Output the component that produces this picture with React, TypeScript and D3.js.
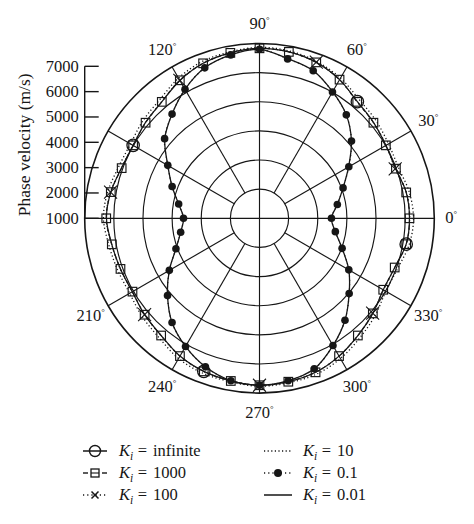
import React, { useEffect, useRef } from 'react';
import * as d3 from 'd3';

// polar angle of every sample (degrees, counter-clockwise from 0°)
const angles = [
  0, 10, 20, 30, 40, 50, 60, 70, 80, 90, 100, 110, 120, 130, 140, 150, 160, 170,
  180, 190, 200, 210, 220, 230, 240, 250, 260, 270, 280, 290, 300, 310, 320, 330, 340, 350,
];

// phase velocity (m/s) for each interface stiffness
const kInfinite = [
  6920, 6880, 6720, 6760, 6880, 7010, 7320, 7550, 7670, 7710, 7630, 7510, 7280, 7000, 6880, 6760, 6800, 6960,
  7040, 6920, 6840, 6800, 6920, 7040, 7280, 7430, 7510, 7590, 7550, 7470, 7280, 7040, 6840, 6640, 6680, 6880,
];
const k1000 = [
  6920, 6880, 6730, 6760, 6870, 7000, 7320, 7550, 7670, 7710, 7630, 7510, 7290, 7000, 6870, 6760, 6790, 6960,
  7050, 6920, 6840, 6790, 6920, 7040, 7280, 7430, 7520, 7590, 7550, 7470, 7280, 7040, 6840, 6640, 6680, 6880,
];
const k100 = [
  6930, 6890, 6700, 6770, 6880, 7000, 7320, 7560, 7670, 7710, 7630, 7510, 7290, 7010, 6880, 6770, 6800, 6970,
  7050, 6930, 6850, 6800, 6920, 7050, 7280, 7440, 7510, 7590, 7550, 7470, 7280, 7040, 6830, 6650, 6690, 6880,
];
const k10 = [
  7080, 7000, 6840, 6880, 7000, 7120, 7390, 7590, 7710, 7750, 7670, 7590, 7390, 7120, 7000, 6880, 6920, 7080,
  7160, 7040, 6960, 6920, 7040, 7160, 7390, 7510, 7550, 7630, 7590, 7550, 7390, 7160, 6960, 6760, 6800, 7000,
];
const k01 = [
  3840, 4120, 4510, 5070, 5740, 6330, 6760, 7200, 7390, 7670, 7550, 7320, 6880, 6370, 5890, 5180, 4670, 4240,
  4000, 4160, 4510, 5110, 5740, 6370, 6840, 7240, 7510, 7590, 7510, 7320, 6800, 6250, 5620, 5070, 4470, 4040,
];
const k001 = [
  3840, 4120, 4510, 5060, 5740, 6330, 6770, 7200, 7400, 7670, 7550, 7320, 6880, 6370, 5880, 5180, 4670, 4240,
  4000, 4160, 4510, 5110, 5740, 6370, 6840, 7240, 7510, 7590, 7510, 7320, 6800, 6250, 5620, 5070, 4470, 4040,
];

const circleAngles = [50, 150, 250, 350];
const crossAngles = [20, 70, 120, 170, 220, 270, 320];

const spokeAngles = [0, 30, 60, 90, 120, 150, 180, 210, 240, 270, 300, 330];
const angleLabels = [0, 30, 60, 90, 120, 210, 240, 270, 300, 330];
const velocityTicks = [1000, 2000, 3000, 4000, 5000, 6000, 7000];
const gridRings = [2150, 3300, 4450, 5600, 6750, 7900];

const legendLabels = ['infinite', '1000', '100', '10', '0.1', '0.01'];

const FONT = "'Liberation Serif', 'DejaVu Serif', serif";

const App: React.FC = () => {
  const ref = useRef<SVGSVGElement>(null);

  useEffect(() => {
    if (!ref.current) return;
    const svg = d3.select(ref.current);
    svg.selectAll('*').remove();

    const cx = 259.5;
    const cy = 218.3;
    const r = d3.scaleLinear().domain([1000, 7000]).range([0, 152]);
    const R = r(7900);
    const rad = (deg: number) => (deg * Math.PI) / 180;
    const px = (deg: number, v: number) => cx + r(v) * Math.cos(rad(deg));
    const py = (deg: number, v: number) => cy - r(v) * Math.sin(rad(deg));
    const ink = '#161616';

    const g = svg.append('g');

    // grid rings
    g.selectAll('circle.ring')
      .data(gridRings)
      .enter()
      .append('circle')
      .attr('cx', cx)
      .attr('cy', cy)
      .attr('r', (d) => r(d))
      .attr('fill', 'none')
      .attr('stroke', ink)
      .attr('stroke-width', (d, i) => (i === gridRings.length - 1 ? 1.6 : 1.15));

    // spokes
    g.selectAll('line.spoke')
      .data(spokeAngles)
      .enter()
      .append('line')
      .attr('x1', (d) => px(d, d % 90 === 0 ? 1000 : gridRings[0]))
      .attr('y1', (d) => py(d, d % 90 === 0 ? 1000 : gridRings[0]))
      .attr('x2', (d) => px(d, 7900))
      .attr('y2', (d) => py(d, 7900))
      .attr('stroke', ink)
      .attr('stroke-width', 1.15);

    // angle labels
    const lab = g
      .selectAll('text.ang')
      .data(angleLabels)
      .enter()
      .append('text')
      .attr('x', (d) => cx + (R + 20) * Math.cos(rad(d)) - (d === 0 ? 3 : 0))
      .attr('y', (d) => cy - (R + 20) * Math.sin(rad(d)) + 5)
      .attr('text-anchor', 'middle')
      .attr('font-family', FONT)
      .attr('font-size', 16.5)
      .attr('fill', ink);
    lab.append('tspan').text((d) => `${d}`);
    lab.append('tspan').attr('font-size', 9).attr('dy', -6).text('°');

    // left radial axis
    const axisX = cx - R;
    g.append('line')
      .attr('x1', axisX)
      .attr('x2', axisX)
      .attr('y1', cy - r(7000))
      .attr('y2', cy)
      .attr('stroke', ink)
      .attr('stroke-width', 1.4);
    g.selectAll('line.tick')
      .data(velocityTicks)
      .enter()
      .append('line')
      .attr('x1', axisX)
      .attr('x2', axisX + 14)
      .attr('y1', (d) => cy - r(d))
      .attr('y2', (d) => cy - r(d))
      .attr('stroke', ink)
      .attr('stroke-width', 1.4);
    g.selectAll('text.tick')
      .data(velocityTicks)
      .enter()
      .append('text')
      .attr('x', axisX - 6)
      .attr('y', (d) => cy - r(d) + 5.5)
      .attr('text-anchor', 'end')
      .attr('font-family', FONT)
      .attr('font-size', 16.5)
      .attr('fill', ink)
      .text((d) => d);
    g.append('text')
      .attr('transform', `translate(30,${cy - r(3900)}) rotate(-90)`)
      .attr('text-anchor', 'middle')
      .attr('font-family', FONT)
      .attr('font-size', 17.5)
      .attr('fill', ink)
      .text('Phase velocity (m/s)');

    // curves
    const curve = d3
      .lineRadial<number>()
      .angle((d, i) => rad(90 - angles[i]))
      .radius((d) => r(d))
      .curve(d3.curveCatmullRomClosed);

    const series = [
      { values: k10, dash: '1.2,2.4', width: 1.3 },
      { values: k100, dash: '1.2,3', width: 1.2 },
      { values: k1000, dash: '4,3', width: 1.1 },
      { values: kInfinite, dash: null, width: 1.2 },
      { values: k01, dash: '1.2,3', width: 1.2 },
      { values: k001, dash: null, width: 1.3 },
    ];
    series.forEach((s) => {
      g.append('path')
        .attr('transform', `translate(${cx},${cy})`)
        .attr('d', curve(s.values))
        .attr('fill', 'none')
        .attr('stroke', ink)
        .attr('stroke-width', s.width)
        .attr('stroke-dasharray', s.dash);
    });

    // markers
    const valueAt = (arr: number[], a: number) => arr[angles.indexOf(a)];

    g.selectAll('rect.sq')
      .data(angles)
      .enter()
      .append('rect')
      .attr('x', (d) => px(d, valueAt(k1000, d)) - 4.3)
      .attr('y', (d) => py(d, valueAt(k1000, d)) - 4.3)
      .attr('width', 8.6)
      .attr('height', 8.6)
      .attr('fill', 'none')
      .attr('stroke', ink)
      .attr('stroke-width', 1.15);

    g.selectAll('circle.inf')
      .data(circleAngles)
      .enter()
      .append('circle')
      .attr('cx', (d) => px(d, valueAt(kInfinite, d)))
      .attr('cy', (d) => py(d, valueAt(kInfinite, d)))
      .attr('r', 6.2)
      .attr('fill', 'none')
      .attr('stroke', ink)
      .attr('stroke-width', 1.3);

    const crossPath = (x: number, y: number, s: number) =>
      `M${x - s},${y - s}L${x + s},${y + s}M${x - s},${y + s}L${x + s},${y - s}`;
    g.selectAll('path.cross')
      .data(crossAngles)
      .enter()
      .append('path')
      .attr('d', (d) => crossPath(px(d, valueAt(k100, d)), py(d, valueAt(k100, d)), 6.5))
      .attr('fill', 'none')
      .attr('stroke', ink)
      .attr('stroke-width', 1.1);

    g.selectAll('circle.dot')
      .data(angles)
      .enter()
      .append('circle')
      .attr('cx', (d) => px(d, valueAt(k01, d)))
      .attr('cy', (d) => py(d, valueAt(k01, d)))
      .attr('r', 3.8)
      .attr('fill', ink);

    // legend
    const rowY = [451, 473, 495];
    const colSym = [83, 264];
    const colText = [119, 303];
    const symW = [24, 28];
    const legendStyles = [
      { dash: null, marker: 'circle' },
      { dash: '4,3', marker: 'square' },
      { dash: '1.2,3', marker: 'cross' },
      { dash: '1.2,2.4', marker: null },
      { dash: '1.2,3', marker: 'dot' },
      { dash: null, marker: null },
    ];
    legendLabels.forEach((label, i) => {
      const col = i < 3 ? 0 : 1;
      const y = rowY[i % 3];
      const x0 = colSym[col];
      const x1 = x0 + symW[col];
      const xm = (x0 + x1) / 2;
      const st = legendStyles[i];
      if (st.marker === 'square') {
        g.append('line').attr('x1', x0).attr('x2', x0 + 5).attr('y1', y).attr('y2', y)
          .attr('stroke', ink).attr('stroke-width', 1.4);
        g.append('line').attr('x1', x1 - 5).attr('x2', x1).attr('y1', y).attr('y2', y)
          .attr('stroke', ink).attr('stroke-width', 1.4);
        g.append('rect').attr('x', xm - 4).attr('y', y - 4).attr('width', 8).attr('height', 8)
          .attr('fill', 'none').attr('stroke', ink).attr('stroke-width', 1.3);
        g.append('line').attr('x1', xm - 4).attr('x2', xm + 4).attr('y1', y).attr('y2', y)
          .attr('stroke', ink).attr('stroke-width', 1.1);
      } else {
        g.append('line')
          .attr('x1', x0)
          .attr('x2', x1)
          .attr('y1', y)
          .attr('y2', y)
          .attr('stroke', ink)
          .attr('stroke-width', st.dash ? 1.4 : 1.5)
          .attr('stroke-dasharray', st.dash);
      }
      if (st.marker === 'circle') {
        g.append('circle').attr('cx', xm).attr('cy', y).attr('r', 5.5)
          .attr('fill', 'none').attr('stroke', ink).attr('stroke-width', 1.4);
      } else if (st.marker === 'cross') {
        g.append('path').attr('d', crossPath(xm, y, 3.5)).attr('fill', '#fff')
          .attr('stroke', ink).attr('stroke-width', 1.5);
      } else if (st.marker === 'dot') {
        g.append('circle').attr('cx', xm).attr('cy', y).attr('r', 4).attr('fill', ink);
      }
      const t = g
        .append('text')
        .attr('x', colText[col])
        .attr('y', y + 5)
        .attr('font-family', FONT)
        .attr('font-size', 16.5)
        .attr('fill', ink);
      t.append('tspan').attr('font-style', 'italic').text('K');
      t.append('tspan').attr('font-style', 'italic').attr('font-size', 11.5).attr('dy', 4).text('i');
      t.append('tspan').attr('dy', -4).attr('dx', 4.5).text('=');
      t.append('tspan').attr('dx', 6).text(label);
    });
  }, []);

  return (
    <svg
      ref={ref}
      width={474}
      height={524}
      style={{ position: 'absolute', left: 0, top: 0, background: '#fff' }}
    />
  );
};

export default App;
